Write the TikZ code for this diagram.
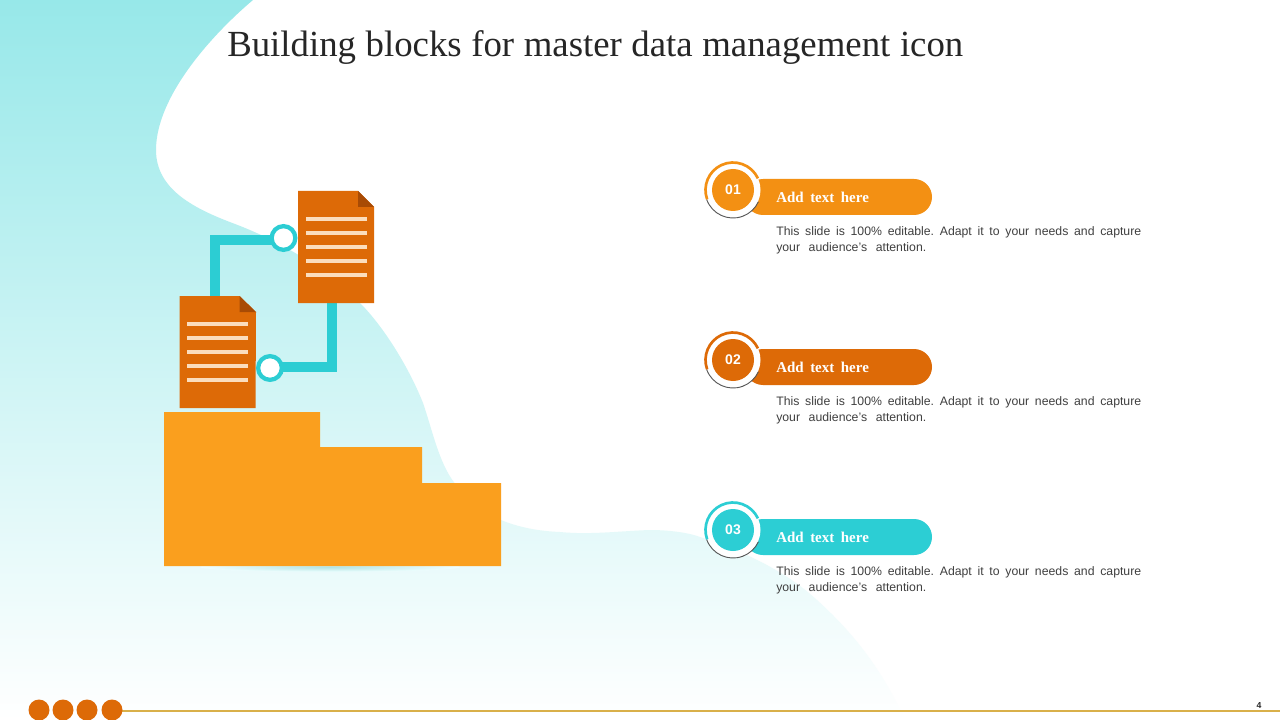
\documentclass[tikz,border=0pt]{standalone}
\usepackage{fontspec}
\setmainfont{Liberation Serif}
\setsansfont{Liberation Sans}
\definecolor{tealtop}{HTML}{97E8E9}
\definecolor{stair}{HTML}{FA9F1E}
\definecolor{docor}{HTML}{DD6A07}
\definecolor{docfold}{HTML}{A84B05}
\definecolor{docline}{HTML}{FBDDBD}
\definecolor{link}{HTML}{2CCDD3}
\definecolor{one}{HTML}{F39013}
\definecolor{three}{HTML}{2CCED4}
\definecolor{ruleline}{HTML}{D9B04A}
\definecolor{bodytxt}{HTML}{404040}
\definecolor{titletxt}{HTML}{262626}
\tikzset{
  x=0.75pt,y=-0.75pt,
  docbox/.style={minimum width=57pt,minimum height=84pt,inner sep=0pt,outer sep=0pt},
  ringnode/.style={circle,draw=link,line width=3.2pt,fill=white,minimum size=17.8pt,inner sep=0pt},
  linkline/.style={draw=link,line width=7.5pt,line join=miter},
  docrule/.style={draw=docline,line width=3pt},
  pill/.style={rounded corners=13.5pt},
  badge/.style={circle,fill=#1,minimum size=31.5pt,inner sep=0pt,text=white,font=\sffamily\bfseries\fontsize{10.5}{12}\selectfont},
  headtxt/.style={anchor=west,inner sep=0pt,text=white,font=\bfseries\fontsize{11.25}{13}\selectfont},
  desc/.style={anchor=west,inner sep=0pt,text=bodytxt,font=\sffamily\fontsize{9.2}{11}\selectfont},
  dot/.style={circle,fill=docor,minimum size=15.75pt,inner sep=0pt},
}
\newcommand{\listitem}[4]{%
  \fill[#3,pill] (745,#2-11) rectangle (932,#2+25);
  \fill[white] (733,#2) circle[radius=27.5];
  \draw[#3,line width=2pt] ([shift={(-25:27.5)}]733,#2) arc[start angle=-25,end angle=-200,radius=27.5];
  \draw[black!65,line width=0.7pt] ([shift={(160:28)}]733,#2) arc[start angle=160,end angle=25,radius=28];
  \node[badge=#3] (#1) at (733,#2) {#4};
  \node[headtxt] (#1h) at (776,#2+7) {\hbox to 69.5pt{Add\hfill text\hfill here}};
  \node[desc] (#1a) at (776,#2+42.5) {\hbox to 273.75pt{This\hfill slide\hfill is\hfill 100\%\hfill editable.\hfill Adapt\hfill it\hfill to\hfill your\hfill needs\hfill and\hfill capture}};
  \node[desc] (#1b) at (776,#2+58.5) {\hbox to 112.5pt{your\hfill audience's\hfill attention.}};
}
\begin{document}
\begin{tikzpicture}
\useasboundingbox (0,0) rectangle (1280,720);
\fill[white] (0,0) rectangle (1280,720);
% background wave
\shade[top color=tealtop,bottom color=white,middle color=tealtop!48!white]
  (0,0) -- (253,0)
  .. controls (215,32) and (156,95) .. (156,150)
  .. controls (156,190) and (195,209) .. (235,224)
  .. controls (285,243) and (330,272) .. (360,303)
  .. controls (385,328) and (410,370) .. (423,403)
  .. controls (433,432) and (440,468) .. (458,487)
  .. controls (475,512) and (510,530) .. (560,532)
  .. controls (590,535) and (620,531) .. (650,530)
  .. controls (670,530) and (690,533) .. (700,537)
  .. controls (750,553) and (790,575) .. (817,600)
  .. controls (850,630) and (880,665) .. (905,720)
  -- (0,720) -- cycle;
% shadow
\shade[inner color=black!35!cyan!30!white,outer color=cyan!6!white] (330,567) ellipse[x radius=130,y radius=5];
% stairs
\fill[stair] (164,412) -- (320,412) -- (320,447) -- (422,447) -- (422,483) -- (501,483) -- (501,566) -- (164,566) -- cycle;
% document anchors
\node[docbox] (docA) at (336,247) {};
\node[docbox] (docB) at (217.5,352) {};
\node[ringnode] (ringA) at (283.5,238) {};
\node[ringnode] (ringB) at (270,368) {};
\coordinate (cornerA) at (215,240);
\coordinate (cornerB) at (332,367);
% connectors
\draw[linkline,shorten <=-2pt] (ringA.west |- cornerA) -- (cornerA) -- (cornerA |- docB.north);
\draw[linkline,shorten <=-2pt] (ringB.east |- cornerB) -- (cornerB) -- (cornerB |- docA.south);
% documents
\fill[docor] (docA.south west) -- (docA.north west) -- (358,191) -- (374,207) -- (docA.south east) -- cycle;
\fill[docfold] (358,191) -- (374,207) -- (358,207) -- cycle;
\foreach \y in {219,233,247,261,275} \draw[docrule] (306,\y) -- (367,\y);
\fill[docor] (docB.south west) -- (docB.north west) -- (239.5,296) -- (256,312) -- (docB.south east) -- cycle;
\fill[docfold] (239.5,296) -- (256,312) -- (239.5,312) -- cycle;
\foreach \y in {323.5,338,352,366,380} \draw[docrule] (187,\y) -- (248,\y);
% title
\node[anchor=base west,inner sep=0pt,text=titletxt,font=\fontsize{27.6}{32}\selectfont] (title) at (227,57) {\hbox to 552pt{Building\hfill blocks\hfill for\hfill master\hfill data\hfill management\hfill icon}};
% list
\listitem{a}{190}{one}{01}
\listitem{b}{360}{docor}{02}
\listitem{c}{530}{three}{03}
% footer
\draw[ruleline,line width=1pt] (118,711) -- (1280,711);
\node[dot] (d1) at (39,710) {};
\node[dot] (d2) at (63,710) {};
\node[dot] (d3) at (87,710) {};
\node[dot] (d4) at (112,710) {};
\node[inner sep=0pt,text=black!85,font=\sffamily\bfseries\fontsize{6.5}{8}\selectfont] (pg) at (1259,706) {4};
\end{tikzpicture}
\end{document}
